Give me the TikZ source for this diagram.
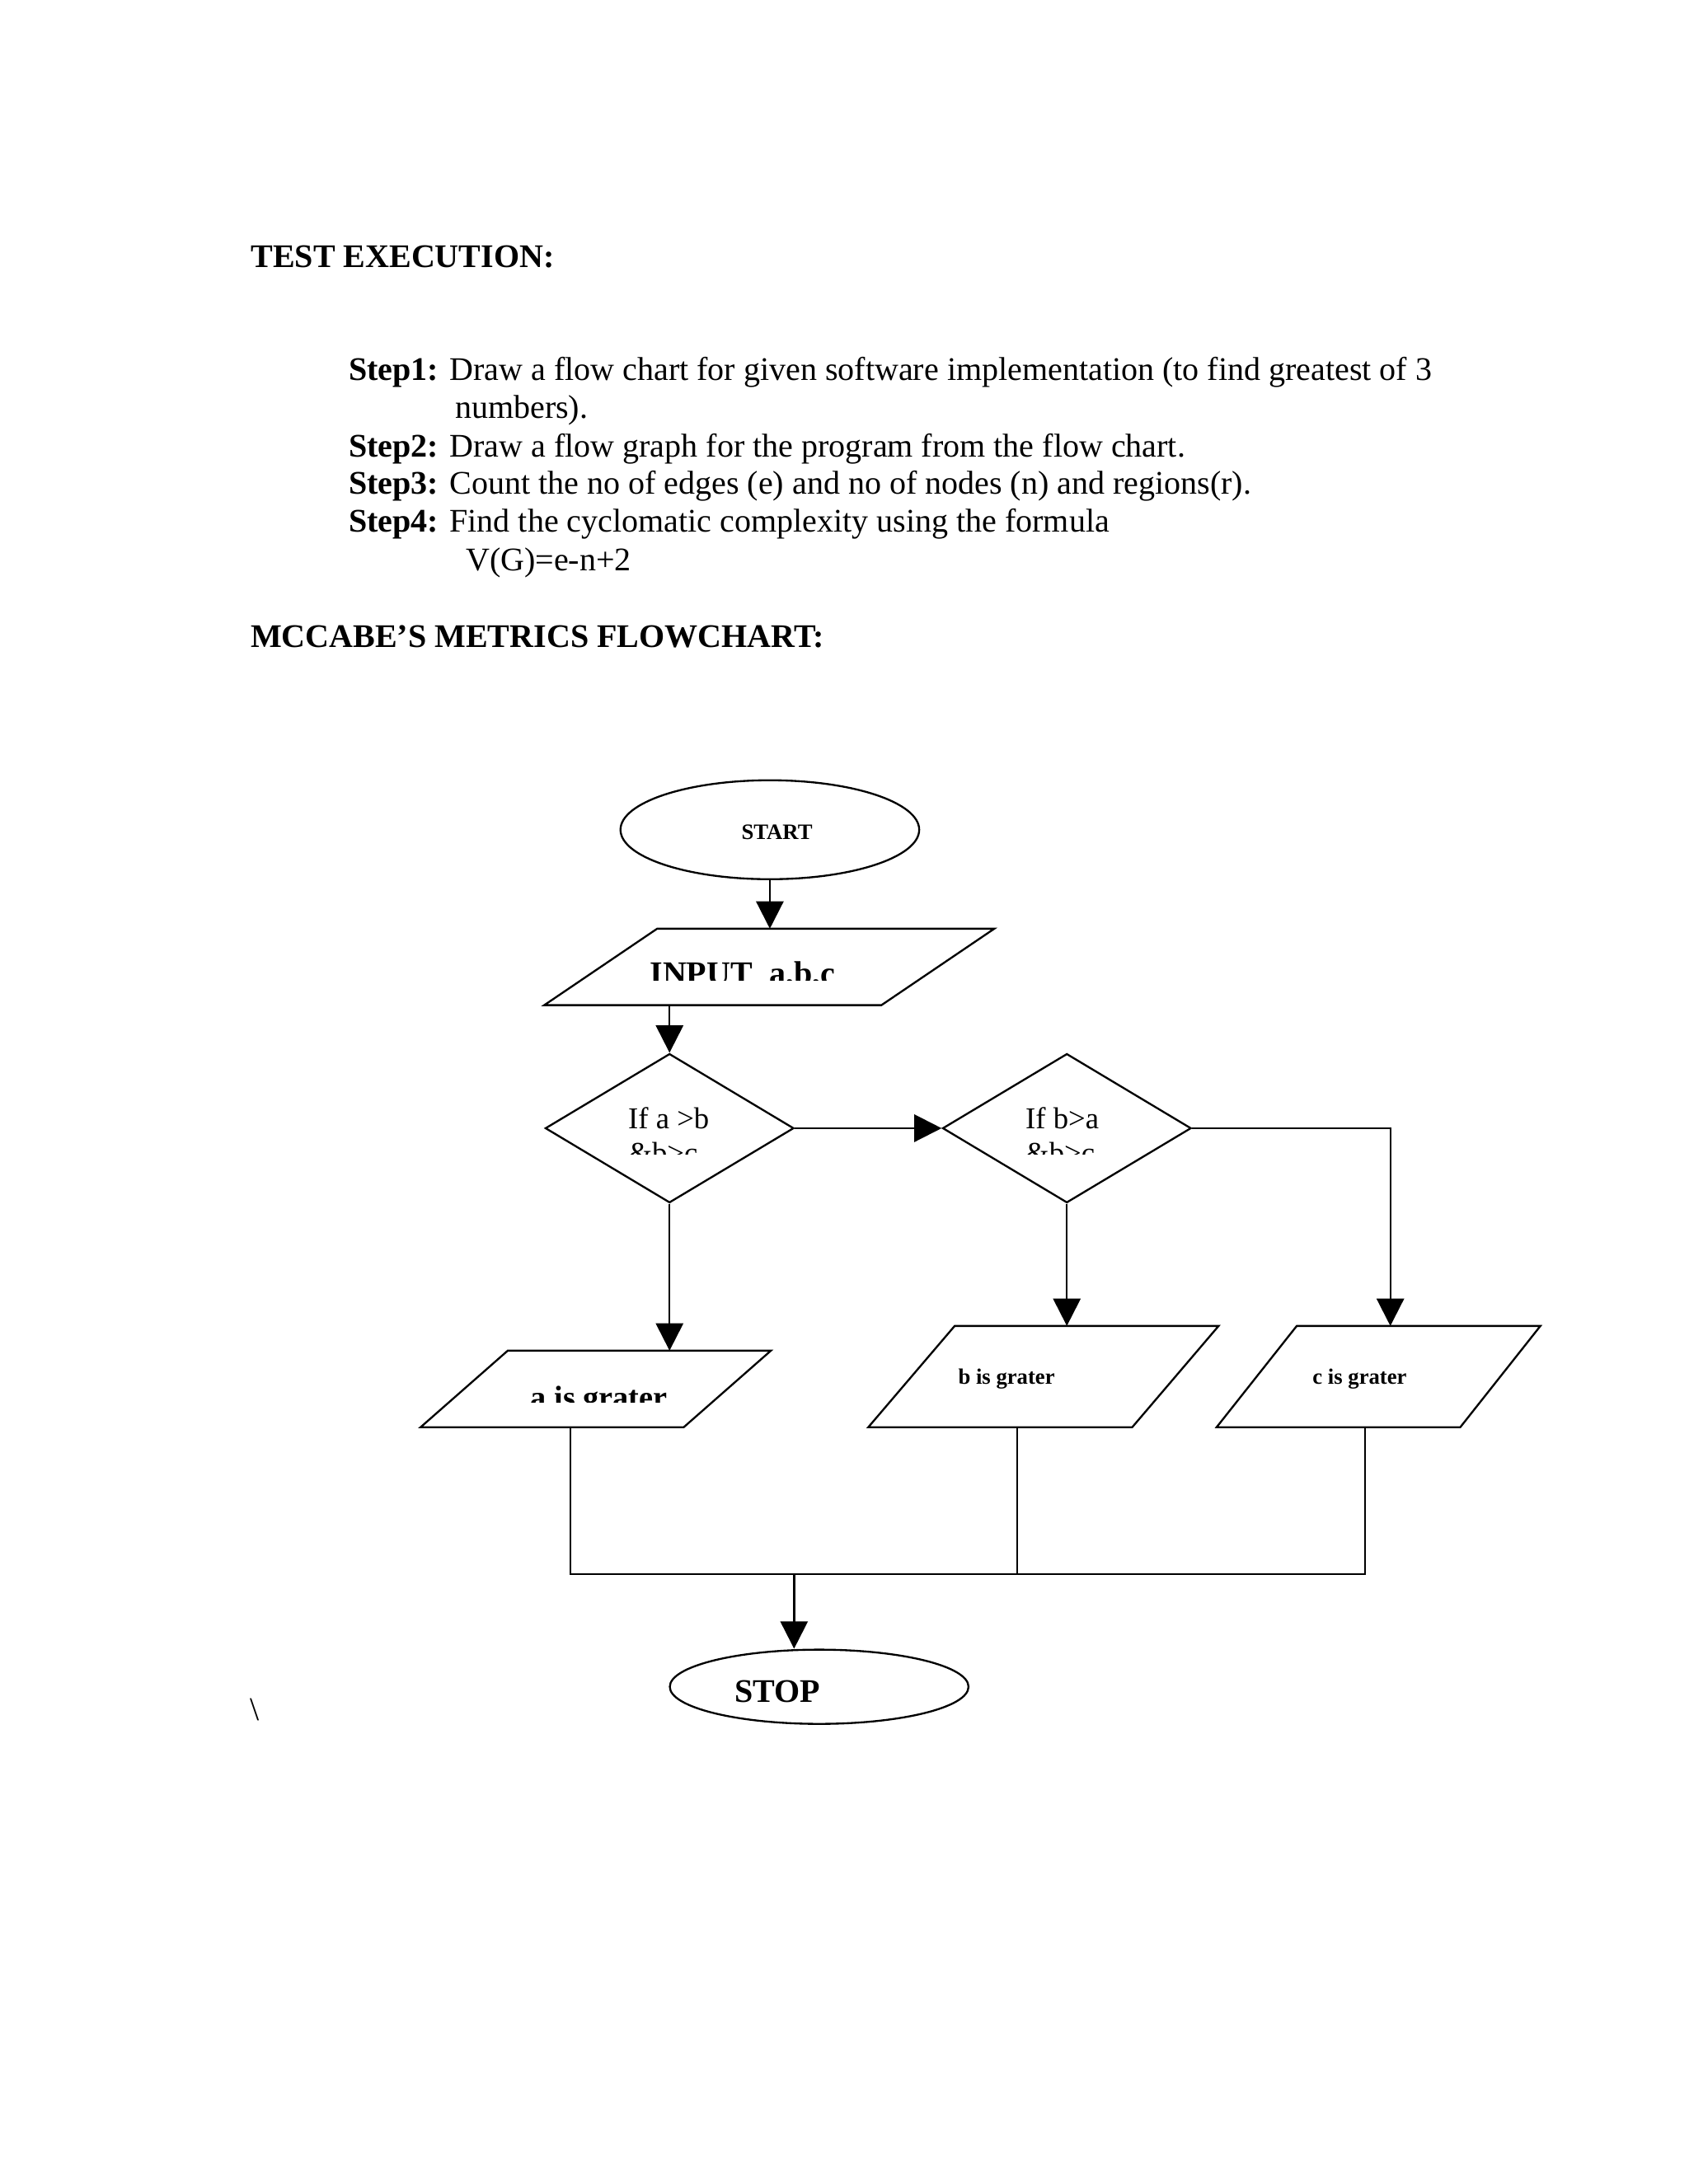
\documentclass[tikz,border=0pt]{standalone}
\usepackage{fontspec}
\setmainfont{Liberation Serif}
\usetikzlibrary{shapes.geometric,arrows.meta}
\newcommand{\slantbox}[2]{\draw (#1.south west) -- ([xshift=-#2]#1.south east) -- (#1.north east) -- ([xshift=#2]#1.north west) -- cycle;}
\begin{document}
\begin{tikzpicture}[x=0.01781cm, y=-0.01781cm, line width=0.7pt]
\tikzstyle{txt} = [anchor=base west,inner sep=0pt,font=\fontsize{12}{14}\selectfont]
\tikzstyle{lbl} = [anchor=base,inner sep=0pt]
\tikzstyle{term} = [draw,ellipse,inner sep=0pt,minimum width=3.818cm]
\tikzstyle{decision} = [draw,diamond,inner sep=0pt,minimum width=3.177cm,minimum height=1.906cm]
\tikzstyle{io} = [rectangle,inner sep=0pt]
\tikzstyle{connector} = [-{Triangle[length=3.5mm,width=3.5mm]}]
\useasboundingbox (0,0) rectangle (1212,1568);

% page text
\node[txt] (title) at (179.4,192.3) {\textbf{TEST EXECUTION:}};
\node[txt] (s1) at (249.7,273) {\textbf{Step1:} Draw a flow chart for given software implementation (to find greatest of 3};
\node[txt] (s1b) at (326,300) {numbers).};
\node[txt] (s2) at (249.7,328) {\textbf{Step2:} Draw a flow graph for the program from the flow chart.};
\node[txt] (s3) at (249.7,355) {\textbf{Step3:} Count the no of edges (e) and no of nodes (n) and regions(r).};
\node[txt] (s4) at (249.7,382) {\textbf{Step4:} Find the cyclomatic complexity using the formula};
\node[txt] (s4b) at (333.7,410) {V(G)=e-n+2};
\node[txt] (mccabe) at (179.2,465) {\textbf{MCCABE’S METRICS FLOWCHART:}};
\node[txt] (bslash) at (179,1235) {\textbackslash};

% flowchart shapes
\node[term,minimum height=1.265cm] (start) at (552.6,595.7) {};
\node[io,minimum width=5.728cm,minimum height=0.953cm] (inp) at (552.2,694.2) {};
\node[decision] (d1) at (480.6,810) {};
\node[decision] (d2) at (765.8,810) {};
\node[io,minimum width=4.454cm,minimum height=0.955cm] (agr) at (427.6,997.2) {};
\node[io,minimum width=4.453cm,minimum height=1.270cm] (bgr) at (749,988.3) {};
\node[io,minimum width=4.114cm,minimum height=1.270cm] (cgr) at (989.5,988.3) {};
\node[term,minimum height=0.949cm] (stop) at (588,1211) {};
\slantbox{inp}{1.443cm}
\slantbox{agr}{1.115cm}
\slantbox{bgr}{1.104cm}
\slantbox{cgr}{1.024cm}

% labels, cut off at the bottom as printed
\node[lbl,font=\fontsize{8}{10}\selectfont\bfseries] (starttxt) at (557.7,602.5) {START};
\begin{scope}
\clip (300,650) rectangle (720,704);
\node[lbl,font=\fontsize{12}{14}\selectfont\bfseries] (inptxt) at (533,707) {INPUT\ \ a,b,c};
\end{scope}
\begin{scope}
\clip (380,740) rectangle (860,828.5);
\node[lbl,font=\fontsize{11}{13}\selectfont] (d1top) at (480,810.5) {If a >b};
\node[lbl,font=\fontsize{11}{13}\selectfont] (d1bot) at (476,835) {\&b>c};
\node[lbl,font=\fontsize{11}{13}\selectfont] (d2top) at (762.5,810.5) {If b>a};
\node[lbl,font=\fontsize{11}{13}\selectfont] (d2bot) at (761,835) {\&b>c};
\end{scope}
\begin{scope}
\clip (300,980) rectangle (560,1007);
\node[lbl,font=\fontsize{11.5}{13}\selectfont\bfseries] (atxt) at (430,1011) {a is grater};
\end{scope}
\node[lbl,font=\fontsize{8}{10}\selectfont\bfseries] (btxt) at (722.5,994) {b is grater};
\node[lbl,font=\fontsize{8}{10}\selectfont\bfseries] (ctxt) at (976,994) {c is grater};
\node[lbl,font=\fontsize{12}{14}\selectfont\bfseries] (stoptxt) at (558,1222) {STOP};

% connectors
\coordinate (ccorner) at (998,810);
\coordinate (ja) at (409.6,1130);
\coordinate (jb) at (730,1130);
\coordinate (jc) at (980,1130);
\coordinate (jn) at (570,1130);
\draw [connector] (start.south) -- (start.south |- inp.north);
\draw [connector] (inp.south -| d1) -- (d1.north);
\draw [connector] (d1.east) -- (d2.west);
\draw [connector] (d1.south) -- (d1.south |- agr.north);
\draw [connector] (d2.south) -- (d2.south |- bgr.north);
\draw [connector] (d2.east) -- (ccorner) -- (ccorner |- cgr.north);
\draw (ja |- agr.south) -- (ja) -- (jc) -- (jc |- cgr.south);
\draw (jb |- bgr.south) -- (jb);
\draw [connector] (jn) -- (jn |- stop.north);
\end{tikzpicture}
\end{document}
